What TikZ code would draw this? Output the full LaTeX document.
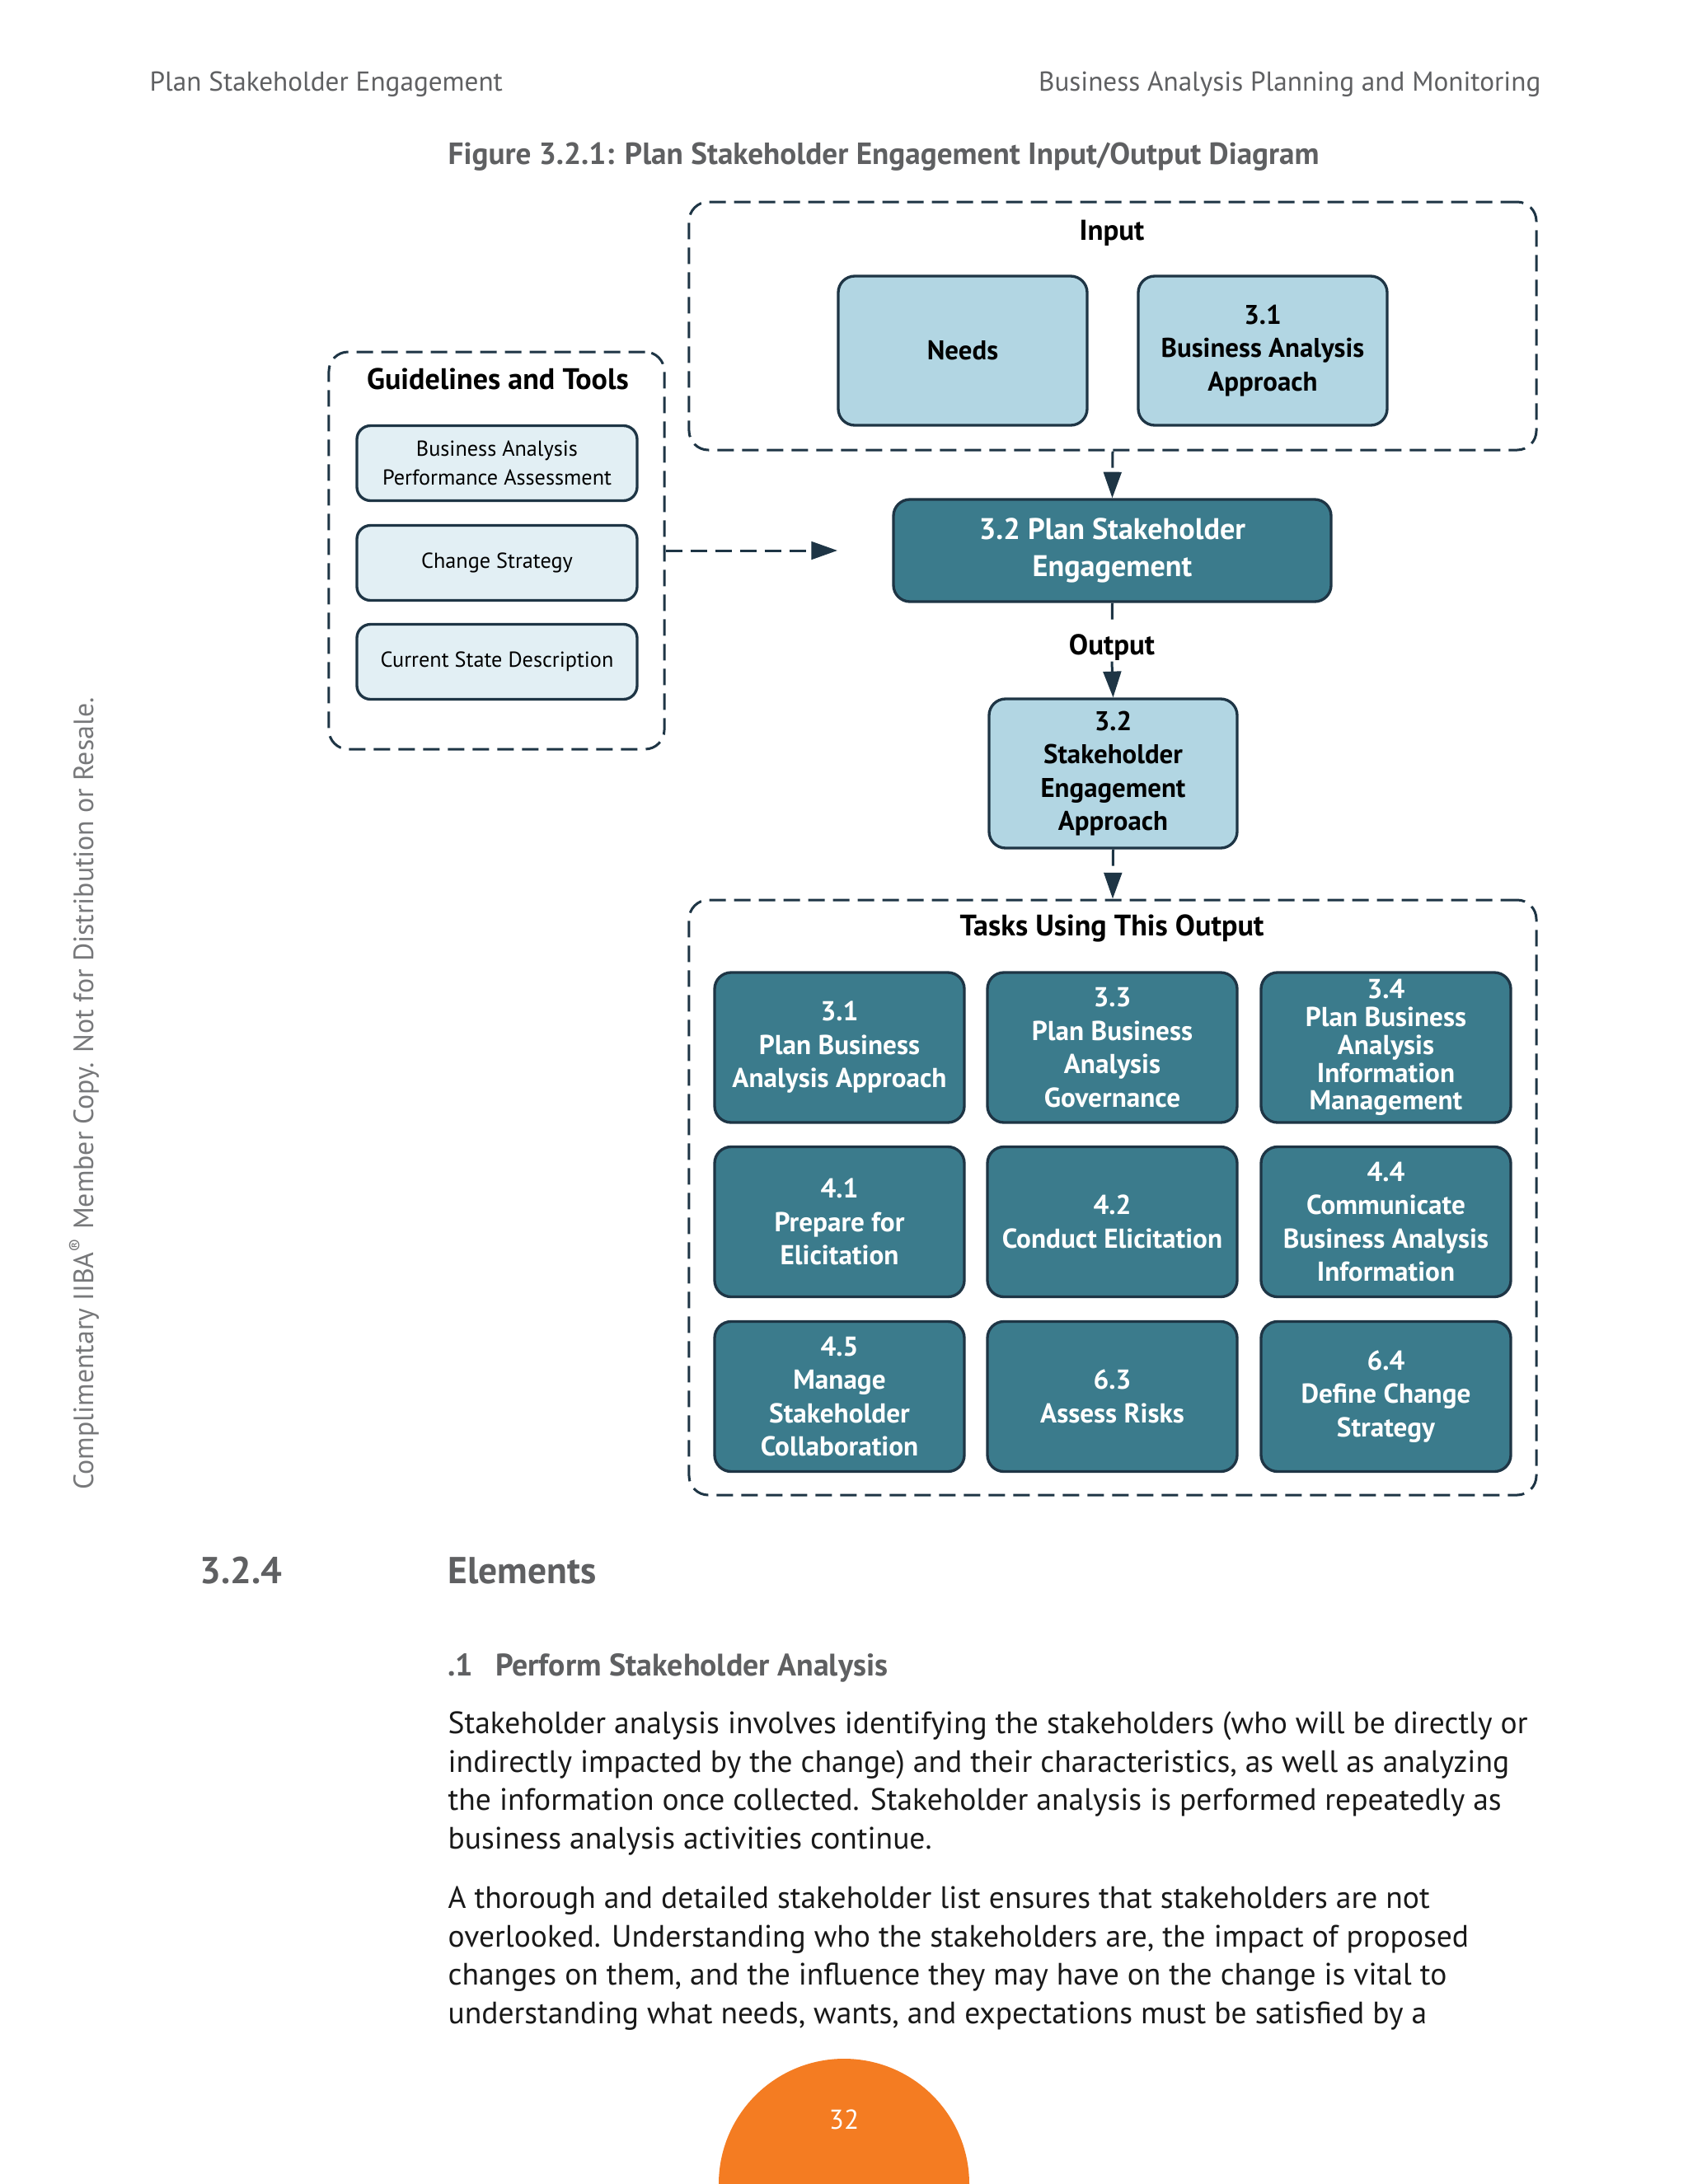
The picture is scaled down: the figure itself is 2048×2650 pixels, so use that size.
\documentclass[tikz,border=0pt]{standalone}
\usepackage{fontspec}
\setmainfont{PT Sans}
\usetikzlibrary{arrows.meta,positioning}

\definecolor{linecol}{HTML}{1E3545}
\definecolor{lightblue}{HTML}{B2D6E3}
\definecolor{paleblue}{HTML}{E2EFF4}
\definecolor{darkteal}{HTML}{3B7B8C}
\definecolor{headgray}{HTML}{5F6062}
\definecolor{pageorange}{HTML}{F47C22}

\tikzset{
  groupbox/.style = {draw = linecol, line width = 0.9bp, dash pattern = on 6bp off 3bp, rounded corners = 7bp, inner sep = 0pt},
  inputbox/.style = {draw = linecol, line width = 1bp, fill = lightblue, rounded corners = 6bp, align = center, inner sep = 0pt, font = \fontsize{9.9}{12.2}\selectfont\bfseries},
  toolbox/.style = {draw = linecol, line width = 1bp, fill = paleblue, rounded corners = 5bp, align = center, inner sep = 0pt, minimum width = 102bp, minimum height = 27.3bp, font = \fontsize{7.9}{10.7}\selectfont},
  taskbox/.style = {draw = linecol, line width = 1bp, fill = darkteal, text = white, rounded corners = 6bp, align = center, inner sep = 0pt, minimum width = 90.9bp, minimum height = 54.6bp, font = \fontsize{10}{12.2}\selectfont\bfseries},
  grouplabel/.style = {font = \fontsize{10.5}{12}\selectfont\bfseries, inner sep = 0pt},
  dashline/.style = {draw = linecol, line width = 0.9bp, dash pattern = on 6bp off 3bp},
  arrowhead/.style = {-{Triangle[length = 9.5bp, width = 6.5bp]}},
  bodytext/.style = {anchor = north west, align = left, inner sep = 0pt, text = black!90, font = \fontsize{11.3}{14.07}\selectfont}
}

\begin{document}
\begin{tikzpicture}[x = 0.3bp, y = 0.3bp]
\useasboundingbox[fill = white] (0,0) rectangle (2048,-2650);

% page header
\node[anchor = west, inner sep = 0pt, text = headgray, font = \fontsize{10}{12}\selectfont] (headleft) at (181,-102) {Plan Stakeholder Engagement};
\node[anchor = east, inner sep = 0pt, text = headgray, font = \fontsize{10}{12}\selectfont] (headright) at (1870,-102) {Business Analysis Planning and Monitoring};
\node[anchor = west, inner sep = 0pt, text = headgray, font = \fontsize{11.2}{13}\selectfont\bfseries] (caption) at (543,-190) {Figure 3.2.1: Plan Stakeholder Engagement Input/Output Diagram};

% input
\node[groupbox, minimum width = 308.4bp, minimum height = 90.3bp] (input) at (1350,-395.5) {};
\node[grouplabel] (inputlbl) at (1349,-283) {Input};
\node[inputbox, minimum width = 90.6bp, minimum height = 54.3bp] (needs) at (1168,-425.5) {Needs};
\node[inputbox, minimum width = 90.6bp, minimum height = 54.3bp] (baapproach) at (1532,-425.5) {3.1\\Business Analysis\\Approach};

% guidelines and tools
\node[groupbox, minimum width = 122.1bp, minimum height = 144.6bp] (guide) at (602.5,-668) {};
\node[grouplabel, font = \fontsize{10.85}{13}\selectfont\bfseries] (guidelbl) at (604,-460) {Guidelines and Tools};
\node[toolbox] (perfassess) at (603,-562) {Business Analysis\\Performance Assessment};
\node[toolbox] (changestrat) at (603,-683) {Change Strategy};
\node[toolbox] (currstate) at (603,-803) {Current State Description};
\coordinate (guideend) at (1016,-668);

% task
\node[taskbox, minimum width = 159.3bp, minimum height = 37.2bp, font = \fontsize{10.9}{13.7}\selectfont\bfseries] (pse) at (1349.5,-668) {3.2 Plan Stakeholder\\Engagement};

% output
\node[grouplabel] (outputlbl) at (1349,-786) {Output};
\node[inputbox, minimum width = 90.3bp, minimum height = 54.3bp] (sea) at (1350.5,-938.5) {3.2\\Stakeholder\\Engagement\\Approach};

% tasks using this output
\node[groupbox, minimum width = 308.4bp, minimum height = 216.6bp] (tasks) at (1350,-1453) {};
\node[grouplabel, font = \fontsize{10.85}{12}\selectfont\bfseries] (taskslbl) at (1349,-1126) {Tasks Using This Output};
\node[taskbox] (t31) at (1018.5,-1271) {3.1\\Plan Business\\Analysis Approach};
\node[taskbox] (t33) at (1349.5,-1271) {3.3\\Plan Business\\Analysis\\Governance};
\node[taskbox, font = \fontsize{10}{10.2}\selectfont\bfseries] (t34) at (1681.5,-1271) {3.4\\Plan Business\\Analysis\\Information\\Management};
\node[taskbox] (t41) at (1018.5,-1482.5) {4.1\\Prepare for\\Elicitation};
\node[taskbox] (t42) at (1349.5,-1482.5) {4.2\\Conduct Elicitation};
\node[taskbox] (t44) at (1681.5,-1482.5) {4.4\\Communicate\\Business Analysis\\Information};
\node[taskbox] (t45) at (1018.5,-1694.5) {4.5\\Manage\\Stakeholder\\Collaboration};
\node[taskbox] (t63) at (1349.5,-1694.5) {6.3\\Assess Risks};
\node[taskbox] (t64) at (1681.5,-1694.5) {6.4\\Define Change\\Strategy};

% connectors
\draw[dashline, arrowhead] (input.south) -- (pse.north);
\draw[dashline, arrowhead] (guide.east |- guideend) -- (guideend);
\draw[dashline, shorten >= 3bp] (pse.south) -- (outputlbl.north);
\draw[dashline, arrowhead] (outputlbl.south) -- (sea.north);
\draw[dashline, arrowhead] (sea.south) -- (tasks.north);

% watermark
\node[rotate = 90, inner sep = 0pt, text = headgray!85, font = \fontsize{10.2}{12}\selectfont] (watermark) at (102,-1327) {Complimentary IIBA\textsuperscript{\textregistered} Member Copy. Not for Distribution or Resale.};

% elements section
\node[anchor = west, inner sep = 0pt, text = headgray, font = \fontsize{13.7}{16}\selectfont\bfseries] (secnum) at (242,-1906) {3.2.4};
\node[anchor = west, inner sep = 0pt, text = headgray, font = \fontsize{13.7}{16}\selectfont\bfseries] (secname) at (543,-1906) {Elements};
\node[anchor = west, inner sep = 0pt, text = headgray, font = \fontsize{11.4}{14}\selectfont\bfseries] (subsec) at (543,-2024) {.1\hspace{8bp}Perform Stakeholder Analysis};
\node[bodytext] (para1) at (543,-2076) {Stakeholder analysis involves identifying the stakeholders (who will be directly or\\indirectly impacted by the change) and their characteristics, as well as analyzing\\the information once collected. Stakeholder analysis is performed repeatedly as\\business analysis activities continue.};
\node[bodytext] (para2) at (543,-2288) {A thorough and detailed stakeholder list ensures that stakeholders are not\\overlooked. Understanding who the stakeholders are, the impact of proposed\\changes on them, and the influence they may have on the change is vital to\\understanding what needs, wants, and expectations must be satisfied by a};

% page number
\begin{scope}
\clip (0,0) rectangle (2048,-2650);
\fill[pageorange] (1024,-2650) circle (45.6bp);
\end{scope}
\node[text = white, inner sep = 0pt, font = \fontsize{10}{12}\selectfont] (pagenum) at (1024,-2572) {32};
\end{tikzpicture}
\end{document}
